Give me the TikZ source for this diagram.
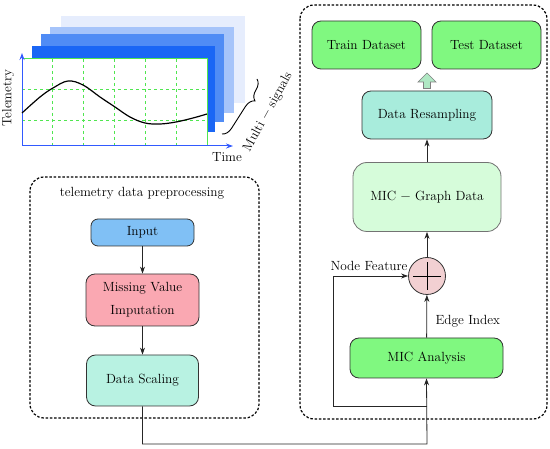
\documentclass[tikz,border=0pt]{standalone}
\usepackage{fontspec}
\usetikzlibrary{arrows.meta,decorations.pathreplacing}
\definecolor{greenbox}{RGB}{128,248,128}
\definecolor{tealbox}{RGB}{168,236,220}
\definecolor{scalebox}{RGB}{184,242,226}
\definecolor{graphbox}{RGB}{214,252,218}
\definecolor{inputbox}{RGB}{128,192,245}
\definecolor{missbox}{RGB}{250,168,178}
\definecolor{plusfill}{RGB}{242,208,210}
\definecolor{hollowfill}{RGB}{176,232,196}
\definecolor{layerA}{RGB}{26,102,245}
\definecolor{layerB}{RGB}{80,140,245}
\definecolor{layerC}{RGB}{166,196,250}
\definecolor{layerD}{RGB}{230,237,253}
\definecolor{gridgreen}{RGB}{80,230,80}
\definecolor{axisblue}{RGB}{50,90,255}
\begin{document}
\begin{tikzpicture}[x=1pt,y=-1pt,font=\fontsize{13.3}{16}\selectfont,
  box/.style={draw=black!80,rounded corners=9pt,line width=0.8pt,align=center,inner sep=0pt},
  arr/.style={-{Stealth[length=7pt,width=5pt]},line width=0.8pt,black!85},
  grp/.style={draw,line width=1.2pt,dash pattern=on 2.5pt off 1.8pt,rounded corners=14pt}]
\useasboundingbox (0,0) rectangle (550,449);

% ---------- chart ----------
\fill[layerD] (61,16) rectangle (245,103);
\fill[layerC] (50,27) rectangle (234,113);
\fill[layerB] (41,34) rectangle (224,122);
\fill[layerA] (32,46) rectangle (215,132);
\fill[white] (22,59) rectangle (207,146);
\foreach \gx in {52,83,114,145,176}
  \draw[gridgreen,dashed,line width=0.7pt] (\gx,59) -- (\gx,146);
\foreach \gy in {89,120}
  \draw[gridgreen,dashed,line width=0.7pt] (22,\gy) -- (207,\gy);
\draw[gridgreen,line width=1pt] (22,59) -- (207,59) -- (207,146);
\draw[axisblue,line width=1pt,-{Stealth[length=7pt,width=5pt]}] (22,146) -- (22,53);
\draw[axisblue,line width=1pt,-{Stealth[length=7pt,width=5pt]}] (22,146) -- (233,146);
\draw[line width=1.2pt] plot[smooth,tension=0.6] coordinates {(22,113) (40,97) (53,88) (68,81) (83,85) (100,97) (115,107) (130,117) (145,123) (160,124) (176,122) (193,118) (207,114)};
\node[rotate=90] (tel) at (8,98) {Telemetry};
\node (time) at (227,157) {Time};
\coordinate (bA) at (257,79);
\coordinate (bB) at (222,134);
\draw[line width=0.9pt,decorate,decoration={brace,amplitude=10pt,aspect=0.3}] (bA) -- (bB);
\node[rotate=61,inner sep=1pt] (multi) at (268,112) {Multi − signals};

% ---------- left group ----------
\draw[grp] (30,177) rectangle (259,418);
\node (pre) at (142,193) {telemetry data preprocessing};
\node[box,fill=inputbox,rounded corners=7pt,minimum width=103pt,minimum height=27pt] (input) at (142.5,232.5) {Input};
\node[box,fill=missbox,minimum width=113pt,minimum height=52pt,font=\fontsize{13.3}{23}\selectfont] (miss) at (142.5,300) {Missing Value\\Imputation};
\node[box,fill=scalebox,minimum width=112pt,minimum height=51pt] (scale) at (142.5,380.5) {Data Scaling};
\draw[arr] (input) -- (miss);
\draw[arr] (miss) -- (scale);

% ---------- right group ----------
\draw[grp] (300,5) rectangle (547,419);
\node[box,fill=greenbox,minimum width=109pt,minimum height=48pt] (train) at (366.5,45) {Train Dataset};
\node[box,fill=greenbox,minimum width=109pt,minimum height=48pt] (test) at (486.5,45) {Test Dataset};
\node[box,fill=tealbox,minimum width=130pt,minimum height=48pt] (resamp) at (427,115) {Data Resampling};
\node[box,draw=black!55,fill=graphbox,minimum width=148pt,minimum height=69pt,rounded corners=14pt] (graph) at (427,197) {MIC − Graph Data};
\node[circle,draw=black!80,line width=0.8pt,fill=plusfill,minimum size=37pt,inner sep=0pt] (plus) at (427,276) {};
\draw[line width=0.9pt] ([xshift=-14pt]plus.center) -- ([xshift=14pt]plus.center);
\draw[line width=0.9pt] ([yshift=-14pt]plus.center) -- ([yshift=14pt]plus.center);
\node[box,fill=greenbox,minimum width=153pt,minimum height=40pt] (mic) at (426.5,358) {MIC Analysis};
\draw[draw=black!50,fill=hollowfill,line width=0.7pt] (427,73) -- (436,82) -- (430.5,82) -- (430.5,88.5) -- (423.5,88.5) -- (423.5,82) -- (418,82) -- cycle;
\draw[arr] (resamp.south |- graph.north) -- (resamp.south);
\draw[arr] (plus) -- (graph);
\draw[arr] (mic) -- (plus);
\node[anchor=west] (edge) at (432,321) {Edge Index};
\node (nfl) at (369,266) {Node Feature};
\coordinate (nf1) at (427,406);
\coordinate (nf2) at (333,406);
\draw[arr] (nf1) -- (nf2) |- (plus.west);
\coordinate (bot) at (427,444);
\draw[arr] (scale.south) |- (bot) -- (mic.south);
\end{tikzpicture}
\end{document}
